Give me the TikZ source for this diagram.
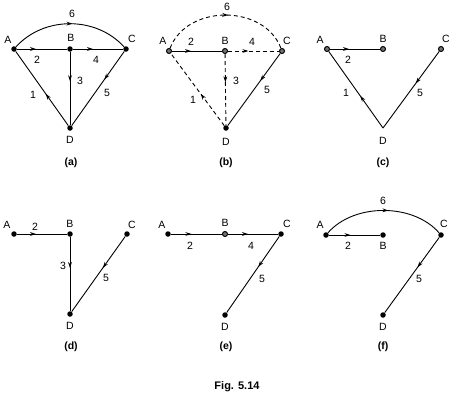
\documentclass[tikz,border=0pt]{standalone}
\usepackage{fontspec}
\setmainfont{Liberation Sans}
\usetikzlibrary{arrows.meta,decorations.markings}
\tikzset{
  vtx/.style={circle,fill=black,inner sep=0pt,minimum size=5.5pt},
  ring/.style={circle,draw=black,fill=black!55,line width=1pt,inner sep=0pt,minimum size=5pt},
  conn/.style={line width=0.9pt},
  dashconn/.style={line width=0.9pt,dash pattern=on 4pt off 3pt},
  arrowat/.style={postaction={decorate},decoration={markings,mark=at position #1 with {\arrow{Stealth[length=6pt,width=3.8pt]}}}},
  lab/.style={font=\fontsize{10.5}{12}\selectfont,inner sep=0pt},
  subcap/.style={font=\fontsize{10.5}{12}\selectfont\bfseries,inner sep=0pt},
}
\begin{document}
\begin{tikzpicture}[x=1pt,y=-1pt]
\useasboundingbox (0,0) rectangle (474,402);
% ---------- (a)
\node[vtx] (aA) at (14,49) {};
\node[vtx] (aB) at (70,49) {};
\node[vtx] (aC) at (126,49) {};
\node[vtx] (aD) at (70,128) {};
\draw[conn,arrowat=0.38] (aA) -- (aB);
\draw[conn,arrowat=0.4] (aB) -- (aC);
\draw[conn,arrowat=0.4] (aB) -- (aD);
\draw[conn,arrowat=0.43] (aD) -- (aA);
\draw[conn,arrowat=0.38] (aC) -- (aD);
\draw[conn,arrowat=0.52] (aA) .. controls +(30,-33) and +(-30,-33) .. (aC);
\node[lab] (aLA) at (8,40) {A};
\node[lab] (aLB) at (71,38) {B};
\node[lab] (aLC) at (132,39) {C};
\node[lab] (aLD) at (70,140) {D};
\node[lab] (a6) at (72,14) {6};
\node[lab] (a2) at (37,60) {2};
\node[lab] (a4) at (96,60) {4};
\node[lab] (a3) at (80,81) {3};
\node[lab] (a1) at (33,95) {1};
\node[lab] (a5) at (107,93) {5};
\node[subcap] (acap) at (71,163) {(a)};
% ---------- (b)
\node[ring] (bA) at (169,51) {};
\node[ring] (bB) at (225,51) {};
\node[ring] (bC) at (282,51) {};
\node[vtx] (bD) at (226,128) {};
\draw[conn,arrowat=0.38] (bA) -- (bB);
\draw[dashconn,arrowat=0.4] (bB) -- (bC);
\draw[dashconn,arrowat=0.4] (bB) -- (bD);
\draw[dashconn,arrowat=0.44] (bD) -- (bA);
\draw[conn,arrowat=0.38] (bC) -- (bD);
\draw[dashconn,arrowat=0.52] (bA) .. controls +(18,-47) and +(-18,-47) .. (bC);
\node[lab] (bLA) at (163,41) {A};
\node[lab] (bLB) at (225,41) {B};
\node[lab] (bLC) at (287,41) {C};
\node[lab] (bLD) at (226,142) {D};
\node[lab] (b6) at (227,7) {6};
\node[lab] (b2) at (191,42) {2};
\node[lab] (b4) at (252,42) {4};
\node[lab] (b3) at (236,81) {3};
\node[lab] (b1) at (193,100) {1};
\node[lab] (b5) at (267,90) {5};
\node[subcap] (bcap) at (226,163) {(b)};
% ---------- (c)
\node[ring] (cA) at (327,49) {};
\node[ring] (cB) at (383,49) {};
\node[ring] (cC) at (441,49) {};
\coordinate (cD) at (383,128);
\draw[conn,arrowat=0.38] (cA) -- (cB);
\draw[conn,arrowat=0.42] (cD) -- (cA);
\draw[conn,arrowat=0.42] (cC) -- (cD);
\node[lab] (cLA) at (320,40) {A};
\node[lab] (cLB) at (383,39) {B};
\node[lab] (cLC) at (446,39) {C};
\node[lab] (cLD) at (383,141) {D};
\node[lab] (c2) at (348,60) {2};
\node[lab] (c1) at (346,93) {1};
\node[lab] (c5) at (420,93) {5};
\node[subcap] (ccap) at (383,163) {(c)};
% ---------- (d)
\node[vtx] (dA) at (14,234) {};
\node[vtx] (dB) at (70,234) {};
\node[vtx] (dC) at (127,234) {};
\node[vtx] (dD) at (70,314) {};
\draw[conn,arrowat=0.38] (dA) -- (dB);
\draw[conn,arrowat=0.42] (dB) -- (dD);
\draw[conn,arrowat=0.42] (dC) -- (dD);
\node[lab] (dLA) at (7,225) {A};
\node[lab] (dLB) at (70,224) {B};
\node[lab] (dLC) at (132,225) {C};
\node[lab] (dLD) at (70,326) {D};
\node[lab] (d2) at (35,227) {2};
\node[lab] (d3) at (63,266) {3};
\node[lab] (d5) at (106,278) {5};
\node[subcap] (dcap) at (71,347) {(d)};
% ---------- (e)
\node[vtx] (eA) at (168,234) {};
\node[ring] (eB) at (225,234) {};
\node[vtx] (eC) at (281,234) {};
\node[vtx] (eD) at (225,315) {};
\draw[conn,arrowat=0.4] (eA) -- (eB);
\draw[conn,arrowat=0.4] (eB) -- (eC);
\draw[conn,arrowat=0.4] (eC) -- (eD);
\node[lab] (eLA) at (162,225) {A};
\node[lab] (eLB) at (225,223) {B};
\node[lab] (eLC) at (287,224) {C};
\node[lab] (eLD) at (225,327) {D};
\node[lab] (e2) at (190,246) {2};
\node[lab] (e4) at (251,246) {4};
\node[lab] (e5) at (262,279) {5};
\node[subcap] (ecap) at (226,347) {(e)};
% ---------- (f)
\node[vtx] (fA) at (326,235) {};
\node[vtx] (fB) at (383,235) {};
\node[vtx] (fC) at (441,235) {};
\node[vtx] (fD) at (383,315) {};
\draw[conn,arrowat=0.42] (fA) -- (fB);
\draw[conn,arrowat=0.4] (fC) -- (fD);
\draw[conn,arrowat=0.54] (fA) .. controls +(28,-32) and +(-28,-32) .. (fC);
\node[lab] (f6) at (383,201) {6};
\node[lab] (fLA) at (320,225) {A};
\node[lab] (fLB) at (383,246) {B};
\node[lab] (fLC) at (444,224) {C};
\node[lab] (fLD) at (383,327) {D};
\node[lab] (f2) at (348,246) {2};
\node[lab] (f5) at (419,279) {5};
\node[subcap] (fcap) at (383,347) {(f)};
% ---------- caption
\node[font=\fontsize{11}{13}\selectfont\bfseries,inner sep=0pt] (fig) at (237,387) {Fig. 5.14};
\end{tikzpicture}
\end{document}
